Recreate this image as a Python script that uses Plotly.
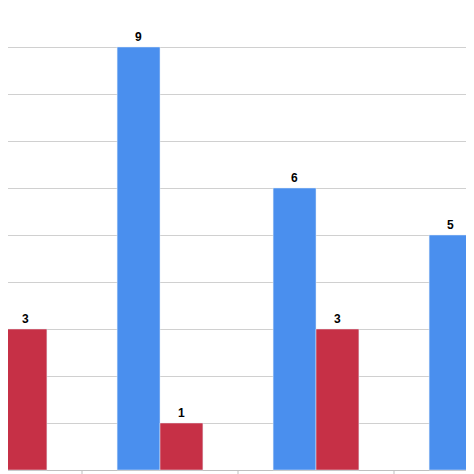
import plotly.graph_objects as go

categories = [0, 1, 2, 3]
blue_values = [3, 9, 6, 5]
red_values = [3, 1, 3, 2]

label_font = dict(size=12, color="#000000", family="Liberation Sans")

fig = go.Figure()
fig.add_trace(go.Bar(x=categories, y=blue_values, marker_color="#4A8FEE",
                     text=[f"<b>{v}</b>" for v in blue_values], textposition="outside",
                     textfont=label_font, cliponaxis=False))
fig.add_trace(go.Bar(x=categories, y=red_values, marker_color="#C63046",
                     text=[f"<b>{v}</b>" for v in red_values], textposition="outside",
                     textfont=label_font, cliponaxis=False))

# category boundary ticks below the baseline
for b in [0.5, 1.5, 2.5]:
    fig.add_shape(type="line", x0=b, x1=b, y0=0, y1=-0.1, xref="x", yref="y",
                  line=dict(color="#bfbfbf", width=1))

fig.update_layout(
    width=474, height=474,
    margin=dict(l=0, r=0, t=0, b=0),
    paper_bgcolor="white", plot_bgcolor="white",
    barmode="group", bargap=0.45, bargroupgap=0,
    showlegend=False,
    font_family="Liberation Sans",
)
fig.update_xaxes(range=[0.0256, 3.064], showticklabels=False, showgrid=False,
                 zeroline=False)
fig.update_yaxes(range=[-0.255, 9.83], dtick=1, showticklabels=False,
                 gridcolor="#d0d0d0", zeroline=True, zerolinecolor="#bfbfbf",
                 zerolinewidth=1)

fig.write_html("out.html")
